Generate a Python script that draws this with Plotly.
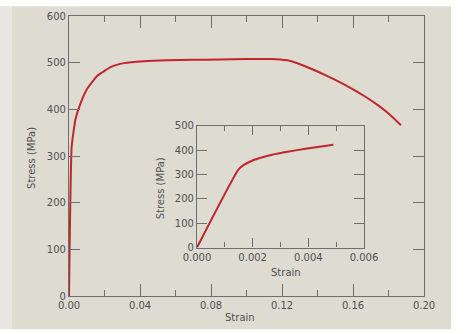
import plotly.graph_objects as go

# ---- data ----
main_strain = [0, 0.0015, 0.0037, 0.0066, 0.0104, 0.016, 0.0237, 0.031, 0.042, 0.055,
               0.07, 0.085, 0.10, 0.114, 0.119, 0.123, 0.127, 0.132, 0.140, 0.150,
               0.159, 0.167, 0.174, 0.181, 0.187]
main_stress = [0, 320, 380, 414, 445, 472, 491, 499, 503, 505,
               506, 507, 508, 508, 507, 505, 501, 494, 481, 463,
               445, 427, 409, 388, 366]

inset_strain = [0, 0.0015, 0.0017, 0.0019, 0.0022, 0.0027, 0.0033, 0.0039, 0.0044, 0.0049]
inset_stress = [0, 322, 340, 352, 365, 381, 394, 405, 413, 422]

main_x_ticks = [0, 0.04, 0.08, 0.12, 0.16, 0.20]
main_x_labels = ["0.00", "0.04", "0.08", "0.12", "0.16", "0.20"]
main_x_minor = [0.02, 0.06, 0.10, 0.14, 0.18]
main_y_ticks = [0, 100, 200, 300, 400, 500, 600]

inset_x_ticks = [0, 0.002, 0.004, 0.006]
inset_x_labels = ["0.000", "0.002", "0.004", "0.006"]
inset_x_minor = [0.001, 0.003, 0.005]
inset_y_ticks = [0, 100, 200, 300, 400, 500]

# ---- styling ----
W, H = 466, 334
L, R, T, B = 69, 42, 10, 38
PW, PH = W - L - R, H - T - B
RED = "#c0262c"
AX = "#6e6e6e"
TXT = "#505050"
FONT = "DejaVu Sans"


def px(x):
    return (x - L) / PW


def py(y):
    return (H - B - y) / PH


fig = go.Figure()
fig.add_trace(go.Scatter(x=main_strain, y=main_stress, mode="lines",
                         line=dict(color=RED, width=2, shape="spline", smoothing=0.4),
                         xaxis="x", yaxis="y", showlegend=False, hoverinfo="skip"))
fig.add_trace(go.Scatter(x=inset_strain, y=inset_stress, mode="lines",
                         line=dict(color=RED, width=2, shape="spline", smoothing=0.5),
                         xaxis="x2", yaxis="y2", showlegend=False, hoverinfo="skip"))

common = dict(showline=True, linecolor=AX, linewidth=1.2, mirror="ticks", ticks="inside",
              tickcolor=AX, tickwidth=1.2, showgrid=False, zeroline=False,
              tickfont=dict(family=FONT, size=10, color=TXT))

ix0, ix1 = px(197), px(364)
iy0, iy1 = py(246.5), py(122)

fig.update_layout(
    width=W, height=H,
    margin=dict(l=L, r=R, t=T, b=B),
    paper_bgcolor="#ffffff",
    plot_bgcolor="rgba(0,0,0,0)",
    xaxis=dict(range=[0, 0.2], tickvals=main_x_ticks, ticktext=main_x_labels, ticklen=12,
               minor=dict(tickvals=main_x_minor, ticks="inside", ticklen=6,
                          tickcolor=AX, tickwidth=1.2),
               domain=[0, 1], anchor="y", **common),
    yaxis=dict(range=[0, 600], tickvals=main_y_ticks, ticklen=11,
               domain=[0, 1], anchor="x", **common),
    xaxis2=dict(range=[0, 0.006], tickvals=inset_x_ticks, ticktext=inset_x_labels, ticklen=9,
                minor=dict(tickvals=inset_x_minor, ticks="inside", ticklen=5,
                           tickcolor=AX, tickwidth=1.2),
                domain=[ix0, ix1], anchor="y2", **common),
    yaxis2=dict(range=[0, 500], tickvals=inset_y_ticks, ticklen=10,
                domain=[iy0, iy1], anchor="x2", **common),
    showlegend=False,
)

# paper-like photo background
fig.add_shape(type="rect", xref="paper", yref="paper", layer="below",
              x0=px(0), x1=px(12), y0=py(330), y1=py(0),
              fillcolor="#e7e6e2", line=dict(width=0))
fig.add_shape(type="rect", xref="paper", yref="paper", layer="below",
              x0=px(12), x1=px(451), y0=py(330), y1=py(0),
              fillcolor="#dedbd1", line=dict(width=0))

ann = dict(xref="paper", yref="paper", showarrow=False, xanchor="center", yanchor="middle",
           font=dict(family=FONT, size=10, color=TXT))
fig.add_annotation(text="Stress (MPa)", x=px(32), y=py(155), textangle=-90, **ann)
fig.add_annotation(text="Strain", x=px(240), y=py(318), **ann)
fig.add_annotation(text="Stress (MPa)", x=px(160), y=py(186), textangle=-90, **ann)
fig.add_annotation(text="Strain", x=px(286), y=py(272), **ann)

fig.write_html("out.html")
